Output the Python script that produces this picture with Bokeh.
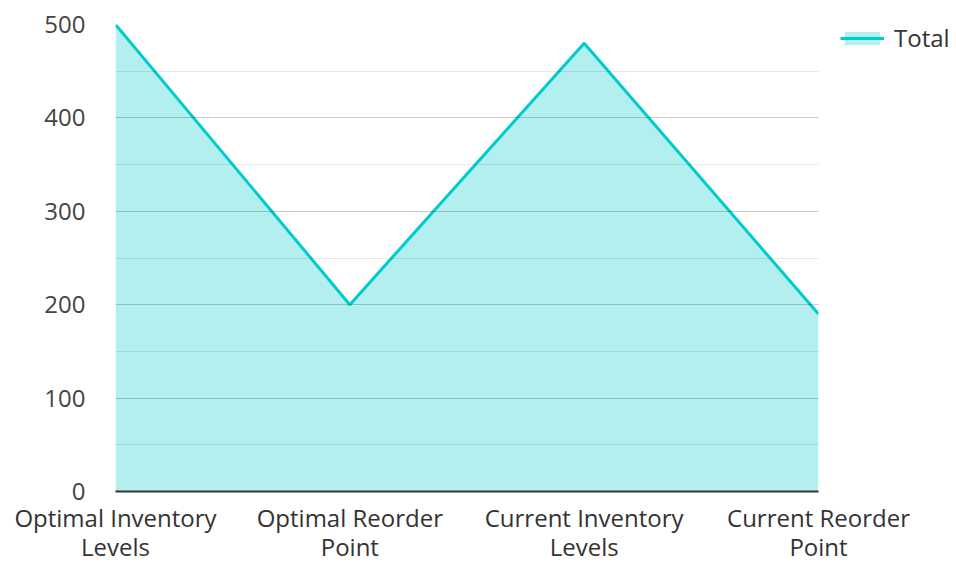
from bokeh.plotting import figure
from bokeh.models import Legend, LegendItem, FixedTicker
from bokeh.embed import file_html
from bokeh.resources import INLINE

categories = ["Optimal Inventory\nLevels", "Optimal Reorder\nPoint", "Current Inventory\nLevels", "Current Reorder\nPoint"]
totals = [500, 200, 480, 190]
series_name = "Total"
y_ticks = [0, 100, 200, 300, 400, 500]
y_minor = [50, 150, 250, 350, 450]

xs = list(range(len(categories)))

p = figure(frame_width=703, frame_height=467, output_backend="svg", toolbar_location=None,
           x_range=(0, len(categories) - 1), y_range=(0, 500),
           min_border_left=115, min_border_top=24, min_border_right=138, min_border_bottom=64)
p.outline_line_color = None
p.background_fill_color = "white"

area = p.varea(x=xs, y1=0, y2=totals, fill_color="#b2efee", fill_alpha=1.0)
line = p.line(x=xs, y=totals, line_color="#00cccc", line_width=3)

# grid drawn above the fill
p.ygrid.level = "overlay"
p.ygrid.ticker = FixedTicker(ticks=y_ticks, minor_ticks=y_minor)
p.ygrid.grid_line_color = "#000000"
p.ygrid.grid_line_alpha = 0.2
p.ygrid.minor_grid_line_color = "#000000"
p.ygrid.minor_grid_line_alpha = 0.09
p.xgrid.grid_line_color = None

p.yaxis.ticker = FixedTicker(ticks=y_ticks)
p.yaxis.axis_line_color = None
p.yaxis.major_tick_line_color = None
p.yaxis.minor_tick_line_color = None
p.yaxis.major_label_standoff = 24
p.yaxis.major_label_text_font = "Open Sans"
p.yaxis.major_label_text_font_size = "24px"
p.yaxis.major_label_text_color = "#444444"

p.xaxis.ticker = FixedTicker(ticks=xs)
p.xaxis.major_label_overrides = {i: c for i, c in enumerate(categories)}
p.xaxis.axis_line_color = "#333333"
p.xaxis.axis_line_width = 2
p.xaxis.major_tick_line_color = None
p.xaxis.minor_tick_line_color = None
p.xaxis.major_label_standoff = 3
p.xaxis.major_label_text_font = "Open Sans"
p.xaxis.major_label_text_font_size = "24px"
p.xaxis.major_label_text_color = "#333333"
p.xaxis.major_label_text_line_height = 0.88

legend = Legend(items=[LegendItem(label=series_name, renderers=[area, line])],
                border_line_color=None, background_fill_alpha=0,
                glyph_width=44, glyph_height=16, label_text_font="Open Sans",
                label_text_font_size="24px", label_text_color="#333333",
                margin=0, padding=0, label_standoff=10, label_height=16)
legend.location = (22, 437)
p.add_layout(legend, "right")

open("out.html", "w").write(file_html(p, INLINE))
